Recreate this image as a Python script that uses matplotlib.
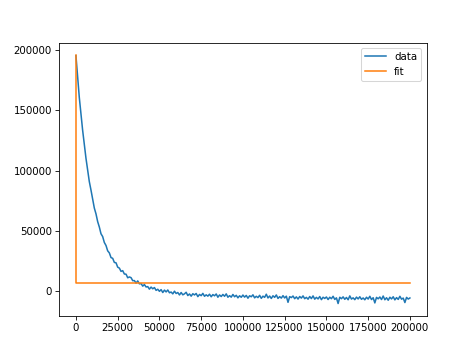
import numpy as np
import matplotlib
matplotlib.use("Agg")
import matplotlib.pyplot as plt

# sample positions (every 1000 from 0 to 200000)
x_start = 0
x_stop = 200000
x_step = 1000

# measured values, in units of 100
data_hundreds = [
    1950, 1773, 1606, 1467, 1334, 1220, 1102, 1006, 909, 839,
    762, 690, 642, 578, 533, 477, 454, 405, 380, 336,
    319, 280, 274, 240, 237, 201, 193, 166, 172, 144,
    143, 113, 120, 114, 89, 90, 69, 87, 63, 65,
    44, 57, 37, 40, 19, 36, 22, 32, 9, 18,
    1, 15, -9, 11, -4, 12, -11, -5, -20, 2,
    -17, -9, -29, -9, -28, -20, -7, -34, -21, -39,
    -19, -29, -17, -43, -25, -35, -16, -40, -28, -39,
    -23, -44, -26, -36, -21, -48, -29, -42, -25, -40,
    -20, -48, -35, -47, -25, -44, -32, -53, -36, -48,
    -30, -47, -33, -56, -36, -44, -28, -53, -40, -51,
    -32, -57, -39, -49, -23, -54, -38, -58, -36, -49,
    -29, -58, -43, -55, -35, -54, -39, -90, -43, -51,
    -38, -60, -45, -63, -42, -55, -37, -60, -49, -64,
    -42, -59, -37, -64, -49, -62, -42, -68, -48, -58,
    -46, -67, -48, -60, -40, -66, -53, -100, -48, -60,
    -45, -65, -50, -69, -37, -63, -53, -68, -47, -62,
    -44, -65, -54, -69, -48, -63, -40, -67, -52, -95,
    -49, -61, -46, -67, -38, -69, -52, -73, -48, -62,
    -44, -70, -51, -66, -40, -64, -55, -92, -49, -63,
    -54,
]

# fit: spike at the first sample, then a flat level
fit_first = 195600
fit_level = 7000

x = np.arange(x_start, x_stop + x_step, x_step)
y_data = np.array(data_hundreds) * 100
y_fit = np.array([fit_first] + [fit_level] * (len(x) - 1))

fig = plt.figure(figsize=(474 / 74, 355 / 74), dpi=74)
plt.plot(x, y_data, label="data")
plt.plot(x, y_fit, label="fit", drawstyle="steps-pre")
plt.legend()
plt.savefig("out.png", dpi=74)
